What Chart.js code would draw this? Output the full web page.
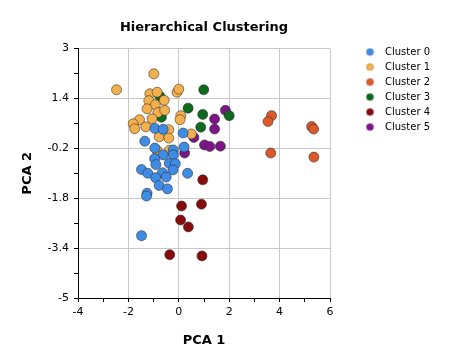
<!DOCTYPE html>
<html>
<head>
<meta charset="utf-8">
<script src="https://cdn.jsdelivr.net/npm/chart.js@4.4.1/dist/chart.umd.min.js"></script>
<style>
  html, body { margin: 0; padding: 0; background: #fff; }
  #wrap { width: 454px; height: 362px; position: relative; }
</style>
</head>
<body>
<div id="wrap"><canvas id="chart"></canvas></div>
<script>
const clusterNames = ["Cluster 0", "Cluster 1", "Cluster 2", "Cluster 3", "Cluster 4", "Cluster 5"];
const clusterColors = ["#3f8ce6", "#f3b04c", "#dc5a2a", "#0c6a1c", "#870b0b", "#7a1686"];

// [PCA 1, PCA 2] per cluster
const cluster0 = [
  [-0.95, 0.44], [-0.62, 0.41], [0.17, 0.29], [-1.35, 0.03], [-0.95, -0.19],
  [-0.22, -0.25], [-0.22, -0.41], [-0.62, -0.41], [0.21, -0.16], [-0.96, -0.53],
  [-0.91, -0.72], [-0.38, -0.68], [-0.14, -0.69], [-0.23, -0.89], [-1.48, -0.88],
  [-1.23, -1.0], [-0.65, -0.98], [0.35, -1.0], [-0.92, -1.14], [-0.5, -1.12],
  [-0.78, -1.39], [-0.45, -1.5], [-1.26, -1.64], [-1.28, -1.73], [-1.48, -3.0]
];
const cluster1 = [
  [-2.47, 1.68], [-0.99, 2.19], [-1.15, 1.55], [-0.86, 1.6], [-0.58, 1.34],
  [-1.19, 1.33], [-0.93, 1.2], [-1.26, 1.07], [-0.83, 0.95], [-0.56, 1.02],
  [-0.07, 1.6], [0.0, 1.7], [-1.56, 0.72], [-1.81, 0.59], [-1.75, 0.43],
  [-1.31, 0.49], [-1.06, 0.75], [0.08, 0.85], [0.05, 0.72], [-0.4, 0.4],
  [-0.78, 0.17], [-0.4, 0.13], [-0.86, -0.27], [-0.37, -0.26], [0.5, 0.26]
];
const cluster2 = [
  [3.68, 0.85], [3.54, 0.66], [5.27, 0.5], [5.35, 0.42], [3.65, -0.35], [5.36, -0.48]
];
const cluster3 = [
  [-0.75, 1.47], [0.99, 1.68], [0.37, 1.09], [0.95, 0.89], [-0.69, 0.8],
  [0.87, 0.48], [2.0, 0.85]
];
const cluster4 = [
  [0.95, -1.21], [0.11, -2.05], [0.9, -1.99], [0.07, -2.5], [0.38, -2.72],
  [-0.36, -3.61], [0.92, -3.65]
];
const cluster5 = [
  [0.6, 0.15], [1.42, 0.74], [1.42, 0.42], [1.02, -0.09], [1.23, -0.14],
  [1.65, -0.13], [0.23, -0.35], [1.85, 1.02]
];
const clusterPoints = [cluster0, cluster1, cluster2, cluster3, cluster4, cluster5];

const xMin = -4, xMax = 6, xStep = 1;
const yMin = -5, yMax = 3, yStep = 0.8;

const font = "'DejaVu Sans', Verdana, sans-serif";

const datasets = clusterNames.map((name, i) => ({
  label: name,
  data: clusterPoints[i].map(([x, y]) => ({ x, y })),
  backgroundColor: clusterColors[i],
  borderColor: "rgba(40, 40, 40, 0.55)",
  borderWidth: 1,
  pointRadius: 5,
  pointHoverRadius: 5
}));

// small round swatch for the legend
function makeDot(color) {
  const c = document.createElement("canvas");
  c.width = 9;
  c.height = 9;
  const g = c.getContext("2d");
  g.beginPath();
  g.arc(4.5, 4.5, 3.6, 0, Math.PI * 2);
  g.fillStyle = color;
  g.fill();
  g.lineWidth = 0.6;
  g.strokeStyle = "rgba(40, 40, 40, 0.35)";
  g.stroke();
  return c;
}
const legendDots = clusterColors.map(makeDot);

// pin the legend box where the reference has it
const legendPlace = {
  id: "legendPlace",
  beforeLayout(chart) {
    const lg = chart.legend;
    if (lg && !lg._patched) {
      const fit = lg.fit;
      lg.fit = function () {
        fit.call(this);
        this.width = 124;
      };
      lg._patched = true;
    }
  },
  afterLayout(chart) {
    const lg = chart.legend;
    if (!lg) return;
    lg.left = 355;
    lg.right = 454;
    lg.top = 42;
  }
};

const majorGrid = (ctx) => (ctx.index % 2 === 0 ? "#c8c8c8" : "rgba(0,0,0,0)");

new Chart(document.getElementById("chart"), {
  type: "scatter",
  data: { datasets },
  plugins: [legendPlace],
  options: {
    responsive: true,
    maintainAspectRatio: false,
    animation: false,
    layout: { padding: 0 },
    plugins: {
      title: {
        display: true,
        fullSize: false,
        text: "Hierarchical Clustering",
        color: "#000",
        font: { family: font, size: 13, weight: "bold" },
        padding: { top: 20, bottom: 13 }
      },
      legend: {
        position: "right",
        align: "start",
        labels: {
          usePointStyle: true,
          pointStyleWidth: 20,
          boxHeight: 9,
          padding: 5,
          color: "#000",
          font: { family: font, size: 10 },
          generateLabels(chart) {
            const items = Chart.defaults.plugins.legend.labels.generateLabels(chart);
            items.forEach((it, i) => { it.pointStyle = legendDots[i]; });
            return items;
          }
        }
      },
      tooltip: { enabled: false }
    },
    scales: {
      x: {
        type: "linear",
        min: xMin,
        max: xMax,
        afterFit(scale) { scale.height = 64; },
        ticks: {
          stepSize: xStep,
          color: "#000",
          font: { family: font, size: 11 },
          padding: 4,
          maxRotation: 0,
          callback: (v, i) => (i % 2 === 0 ? String(Math.round(v)) : "")
        },
        grid: { color: majorGrid, tickColor: "#000", tickLength: 4 },
        border: { color: "#000" },
        title: {
          display: true,
          text: "PCA 1",
          color: "#000",
          font: { family: font, size: 13, weight: "bold" },
          padding: { top: 0, bottom: 14 }
        }
      },
      y: {
        type: "linear",
        min: yMin,
        max: yMax,
        afterFit(scale) { scale.width = 78; },
        ticks: {
          stepSize: yStep,
          color: "#000",
          font: { family: font, size: 11 },
          padding: 5,
          callback: (v, i) => (i % 2 === 0 ? String(Math.round(v * 10) / 10) : "")
        },
        grid: { color: majorGrid, tickColor: "#000", tickLength: 4 },
        border: { color: "#000" },
        title: {
          display: true,
          text: "PCA 2",
          color: "#000",
          font: { family: font, size: 13, weight: "bold" },
          padding: { top: 20, bottom: 0 }
        }
      }
    }
  }
});
</script>
</body>
</html>
